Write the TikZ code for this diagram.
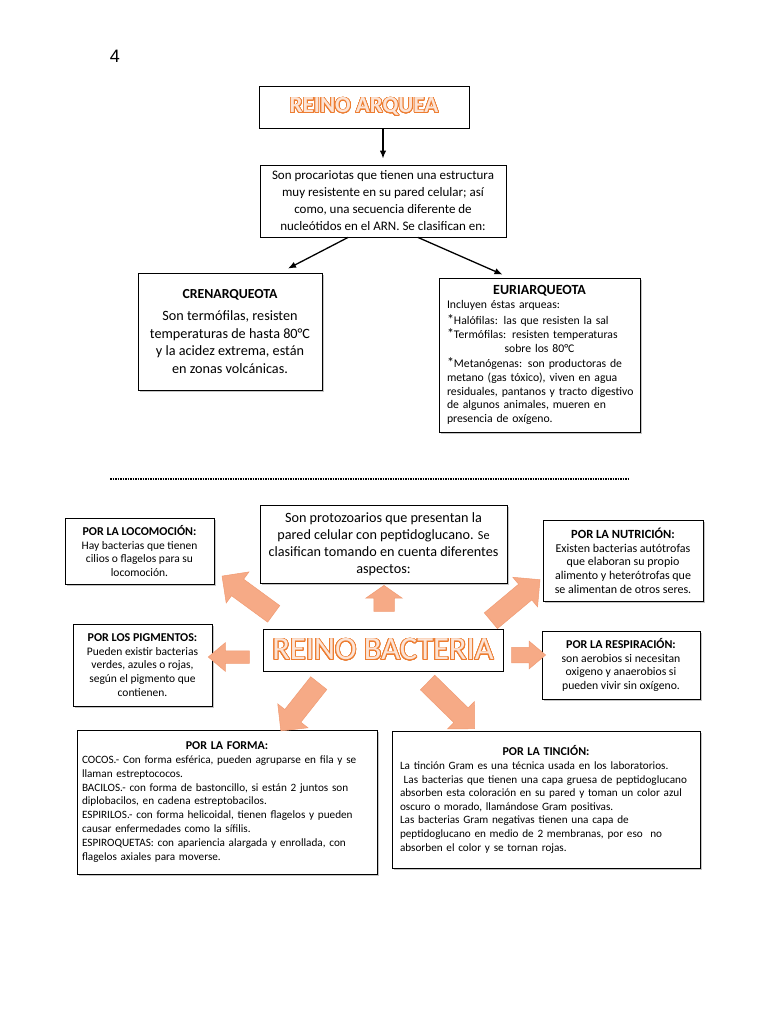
\documentclass[tikz,border=0pt]{standalone}
\usepackage{fontspec}
\setmainfont{Carlito}
\newfontfamily\arialf{Liberation Sans}
\usepackage{contour}
\contournumber{32}
\usetikzlibrary{shapes.arrows,shadows,arrows.meta}
\definecolor{orout}{HTML}{ED7D31}
\definecolor{orin}{HTML}{FCE4D6}
\definecolor{arrfill}{HTML}{F6AA86}
\definecolor{arrdraw}{HTML}{F19B73}
\begin{document}
\begin{tikzpicture}[x=1pt,y=-1pt,
  box/.style={draw=black, line width=0.9pt, fill=white, rectangle, inner sep=0pt, align=center},
  shbox/.style={box, drop shadow={shadow xshift=1.8pt, shadow yshift=-1.8pt, fill=black!45}},
  conn/.style={line width=1.3pt, -{Latex[length=8pt,width=6.5pt]}},
  barrow/.style={single arrow, draw=arrdraw, fill=arrfill, line width=0.5pt, inner xsep=0pt},
  small/.style={font=\fontsize{11.5}{13.6}\selectfont},
  ttl/.style={font=\bfseries\fontsize{12}{13.6}\selectfont}
]
\useasboundingbox (0,0) rectangle (768,1024);
\fill[white] (0,0) rectangle (768,1024);

\node[font=\arialf\fontsize{18}{18}\selectfont] (pg) at (115,56) {4};

% ---------- ARQUEA ----------
\contourlength{0.7pt}
\node[box, minimum width=210, minimum height=42] (arq) at (364,107)
  {\fontsize{23}{23}\selectfont\bfseries\contour{orout}{\textcolor{orin}{REINO ARQUEA}}};

\node[box, minimum width=246, minimum height=72, font=\fontsize{13}{17}\selectfont] (desc) at (383,201)
  {Son procariotas que tienen una estructura\\muy resistente en su pared celular; así\\como, una secuencia diferente de\\nucleótidos en el ARN. Se clasifican en:};

\node[shbox, minimum width=184, minimum height=117, font=\fontsize{14.2}{17.5}\selectfont] (cren) at (230,331.5)
  {\textbf{\fontsize{13.8}{17.5}\selectfont CRENARQUEOTA}\\[5pt]Son termófilas, resisten\\temperaturas de hasta 80°C\\y la acidez extrema, están\\en zonas volcánicas.};

\node[shbox, minimum width=201, minimum height=154, align=left, text width=193, inner xsep=4pt, font=\fontsize{11.7}{13.8}\selectfont] (euri) at (539.5,355)
  {\makebox[193pt]{\textbf{\fontsize{14}{15}\selectfont EURIARQUEOTA}}\\
   \hspace*{4pt}Incluyen éstas arqueas:\\[2pt]
   \hspace*{4pt}{\fontsize{14}{10}\selectfont*}Halófilas: las que resisten la sal\\[1pt]
   \hspace*{4pt}{\fontsize{14}{10}\selectfont*}Termófilas: resisten temperaturas\\
   \makebox[193pt]{sobre los 80°C}\\[1pt]
   \hspace*{4pt}{\fontsize{14}{10}\selectfont*}Metanógenas: son productoras de\\
   \hspace*{4pt}metano (gas tóxico), viven en agua\\
   \hspace*{4pt}residuales, pantanos y tracto digestivo\\
   \hspace*{4pt}de algunos animales, mueren en\\
   \hspace*{4pt}presencia de oxígeno.};

\draw[conn] (arq.south -| desc.north) -- ([yshift=6pt]desc.north);
\draw[conn] ([xshift=-35pt]desc.south) -- ([xshift=58pt,yshift=4pt]cren.north);
\draw[conn] ([xshift=35pt]desc.south) -- ([xshift=-37pt,yshift=3pt]euri.north);

% ---------- dotted separator ----------
\coordinate (dl) at (110,479);
\coordinate (dr) at (628,479);
\draw[line width=2pt, dash pattern=on 1.5pt off 1pt] (dl) -- (dr);

% ---------- BACTERIA ----------
\node[shbox, small, minimum width=149, minimum height=66] (loco) at (139.5,551)
  {{\bfseries\fontsize{12}{13.6}\selectfont POR LA LOCOMOCIÓN:}\\Hay bacterias que tienen\\cilios o flagelos para su\\locomoción.};

\node[shbox, minimum width=247, minimum height=78, font=\fontsize{14.2}{17}\selectfont] (prot) at (383.5,544)
  {Son protozoarios que presentan la\\pared celular con peptidoglucano. \fontsize{12.2}{17}\selectfont Se\\clasifican tomando en cuenta diferentes\\aspectos:};

\node[shbox, font=\fontsize{12}{13.7}\selectfont, minimum width=160, minimum height=81] (nutr) at (623,560.5)
  {{\bfseries\fontsize{12.5}{13.7}\selectfont POR LA NUTRICIÓN:}\\Existen bacterias autótrofas\\que elaboran su propio\\alimento y heterótrofas que\\se alimentan de otros seres.};

\node[shbox, small, minimum width=139, minimum height=82] (pigm) at (142.5,665)
  {{\bfseries\fontsize{12}{13.8}\selectfont POR LOS PIGMENTOS:}\\Pueden existir bacterias\\verdes, azules o rojas,\\según el pigmento que\\contienen.};

\contourlength{0.9pt}
\node[box, minimum width=240, minimum height=42] (bact) at (383,650)
  {\fontsize{32.5}{32}\selectfont\contour{orout}{\textcolor{orin}{REINO BACTERIA}}};

\node[shbox, font=\fontsize{11.7}{13.6}\selectfont, minimum width=158, minimum height=68] (resp) at (621,665)
  {{\bfseries\fontsize{12}{13.6}\selectfont POR LA RESPIRACIÓN:}\\son aerobios si necesitan\\oxigeno y anaerobios si\\pueden vivir sin oxígeno.};

\node[shbox, font=\fontsize{11.2}{13.8}\selectfont, minimum width=300, minimum height=144, align=left, text width=290, inner xsep=5pt] (forma) at (227,802)
  {\makebox[290pt]{\bfseries\fontsize{12}{13.8}\selectfont POR LA FORMA:}\\
   COCOS.- Con forma esférica, pueden agruparse en fila y se\\
   llaman estreptococos.\\
   BACILOS.- con forma de bastoncillo, si están 2 juntos son\\
   diplobacilos, en cadena estreptobacilos.\\
   ESPIRILOS.- con forma helicoidal, tienen flagelos y pueden\\
   causar enfermedades como la sífilis.\\
   ESPIROQUETAS: con apariencia alargada y enrollada, con\\
   flagelos axiales para moverse.};

\node[shbox, font=\fontsize{11.2}{13.6}\selectfont, minimum width=308, minimum height=137, align=left, text width=292, inner xsep=8pt] (tinc) at (546,799.5)
  {\makebox[292pt]{\bfseries\fontsize{12}{13.6}\selectfont POR LA TINCIÓN:}\\
   La tinción Gram es una técnica usada en los laboratorios.\\
   \ Las bacterias que tienen una capa gruesa de peptidoglucano\\
   absorben esta coloración en su pared y toman un color azul\\
   oscuro o morado, llamándose Gram positivas.\\
   Las bacterias Gram negativas tienen una capa de\\
   peptidoglucano en medio de 2 membranas, por eso\ \ no\\
   absorben el color y se tornan rojas.};

% block arrows
\node[barrow, minimum height=26, minimum width=36, inner ysep=10pt, single arrow head extend=8pt, single arrow tip angle=110, rotate=90] (aup) at (384,602) {};
\node[barrow, minimum height=64, minimum width=38, inner ysep=10pt, single arrow head extend=9pt, rotate=143.8] (aul) at (252,598) {};
\node[barrow, minimum height=64, minimum width=38, inner ysep=10pt, single arrow head extend=9pt, rotate=39.9] (aur) at (511.5,603.5) {};
\node[barrow, minimum height=41, minimum width=28, inner ysep=6pt, single arrow head extend=8pt, single arrow tip angle=80, rotate=180] (al) at (232.5,657) {};
\node[barrow, minimum height=34, minimum width=27, inner ysep=7.5pt, single arrow head extend=6pt, single arrow tip angle=80] (ar) at (524,655) {};
\node[barrow, minimum height=61, minimum width=38, inner ysep=10pt, single arrow head extend=9pt, rotate=231.6] (all) at (303,703) {};
\node[barrow, minimum height=66, minimum width=38, inner ysep=10pt, single arrow head extend=9pt, rotate=-44.4] (alr) at (447.5,702) {};
\end{tikzpicture}
\end{document}
